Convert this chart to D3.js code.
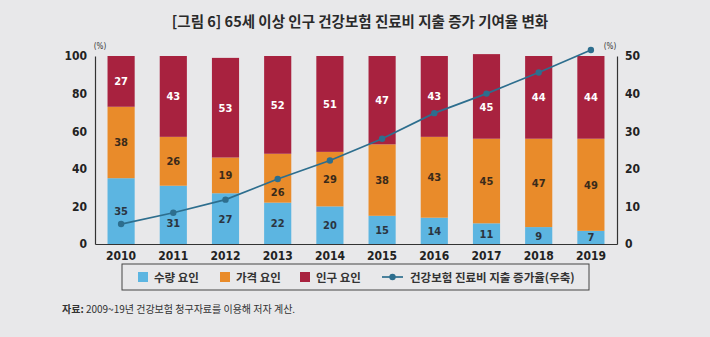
<!DOCTYPE html>
<html>
<head>
<meta charset="utf-8">
<script src="https://cdn.jsdelivr.net/npm/d3@7"></script>
<style>
  html, body { margin: 0; padding: 0; background: #e8e8ea; }
  svg { display: block; }
</style>
</head>
<body>
<svg id="chart" width="710" height="337"></svg>
<script>
// Contribution of population aged 65+ to health-insurance spending growth
const years = ["2010","2011","2012","2013","2014","2015","2016","2017","2018","2019"];
const volume = [35, 31, 27, 22, 20, 15, 14, 11, 9, 7];      // 수량 요인
const price = [38, 26, 19, 26, 29, 38, 43, 45, 47, 49];      // 가격 요인
const population = [27, 43, 53, 52, 51, 47, 43, 45, 44, 44]; // 인구 요인
const growthRate = [5.3, 8.3, 11.8, 17.3, 22.2, 28.0, 34.8, 40.0, 45.6, 51.6]; // 증가율(우축)
const leftTicks = [0, 20, 40, 60, 80, 100];
const rightTicks = [0, 10, 20, 30, 40, 50];

const seriesNames = ["수량 요인", "가격 요인", "인구 요인"];
const colors = ["#5cb5e1", "#e98b2a", "#a8223f"];
const labelColors = ["#2b3440", "#3a2a1a", "#ffffff"];
const lineColor = "#2d6e8e";

// labels moved down a little so the growth line does not cross them
const labelNudge = { "2011-v0": 8, "2013-v1": 14, "2017-v2": 11 };

const svg = d3.select("#chart");
const numFont = "'DejaVu Sans Condensed', 'DejaVu Sans', sans-serif";
const krFont = "'Noto Sans CJK KR', 'Noto Sans', sans-serif";

const x = d3.scaleBand().domain(years).range([95, 617]).paddingInner(0.48).paddingOuter(0.24);
const yL = d3.scaleLinear().domain([0, 100]).range([244, 56]);
const yR = d3.scaleLinear().domain([0, 50]).range([244, 56]);

// Title
svg.append("text")
  .attr("x", 360).attr("y", 27)
  .attr("text-anchor", "middle")
  .attr("font-family", krFont).attr("font-weight", 700)
  .attr("font-size", 14.5).attr("fill", "#2a2a2a")
  .text("[그림 6] 65세 이상 인구 건강보험 진료비 지출 증가 기여율 변화");

// Stacked bars
const rows = years.map((yr, i) => ({ year: yr, v0: volume[i], v1: price[i], v2: population[i] }));
const keys = ["v0", "v1", "v2"];
const stack = d3.stack().keys(keys);
const layers = stack(rows);

layers.forEach((layer, k) => {
  const g = svg.append("g");
  g.selectAll("rect").data(layer).enter().append("rect")
    .attr("x", d => x(d.data.year))
    .attr("width", x.bandwidth())
    .attr("y", d => yL(d[1]))
    .attr("height", d => yL(d[0]) - yL(d[1]))
    .attr("fill", colors[k]);
});

// Growth-rate line on right axis
const line = d3.line()
  .x((d, i) => x(years[i]) + x.bandwidth() / 2)
  .y(d => yR(d));
svg.append("path").datum(growthRate)
  .attr("d", line).attr("fill", "none")
  .attr("stroke", lineColor).attr("stroke-width", 1.7);
svg.append("g").selectAll("circle").data(growthRate).enter().append("circle")
  .attr("cx", (d, i) => x(years[i]) + x.bandwidth() / 2)
  .attr("cy", d => yR(d))
  .attr("r", 3.2).attr("fill", lineColor);

// Bar value labels
layers.forEach((layer, k) => {
  svg.append("g").selectAll("text").data(layer).enter().append("text")
    .attr("x", d => x(d.data.year) + x.bandwidth() / 2)
    .attr("y", d => {
      const top = yL(d[1]), bot = yL(d[0]);
      const nudge = labelNudge[d.data.year + "-" + keys[k]] || 0;
      return (top + bot) / 2 + 4 + nudge;
    })
    .attr("text-anchor", "middle")
    .attr("font-family", numFont).attr("font-weight", 700)
    .attr("font-size", 11)
    .attr("fill", labelColors[k])
    .text(d => d[1] - d[0]);
});

// Left axis
const axL = d3.axisLeft(yL).tickValues(leftTicks).tickSize(0).tickPadding(8);
const gL = svg.append("g").attr("transform", "translate(95,0)").call(axL);
gL.select(".domain").attr("stroke", "#333").attr("stroke-width", 1.2);
gL.selectAll("text").attr("font-family", numFont).attr("font-weight", 700)
  .attr("font-size", 12).attr("fill", "#222");

// Right axis
const axR = d3.axisRight(yR).tickValues(rightTicks).tickSize(0).tickPadding(8);
const gR = svg.append("g").attr("transform", "translate(617,0)").call(axR);
gR.select(".domain").attr("stroke", "#333").attr("stroke-width", 1.2);
gR.selectAll("text").attr("font-family", numFont).attr("font-weight", 700)
  .attr("font-size", 12).attr("fill", "#222");

// Baseline and year labels
const axB = d3.axisBottom(x).tickSize(0).tickPadding(7);
const gB = svg.append("g").attr("transform", "translate(0,244)").call(axB);
gB.select(".domain").attr("stroke", "#333").attr("stroke-width", 1.2);
gB.selectAll("text").attr("font-family", numFont).attr("font-weight", 700)
  .attr("font-size", 12).attr("fill", "#222");

// Unit labels
svg.append("text").attr("x", 100).attr("y", 49)
  .attr("text-anchor", "middle")
  .attr("font-family", numFont).attr("font-size", 8).attr("fill", "#333").text("(%)");
svg.append("text").attr("x", 610).attr("y", 49)
  .attr("text-anchor", "middle")
  .attr("font-family", numFont).attr("font-size", 8).attr("fill", "#333").text("(%)");

// Legend
const lg = svg.append("g");
lg.append("rect").attr("x", 122).attr("y", 264).attr("width", 467).attr("height", 26)
  .attr("fill", "none").attr("stroke", "#444").attr("stroke-width", 1);
const legendX = [138, 220, 300];
seriesNames.forEach((name, k) => {
  lg.append("rect").attr("x", legendX[k]).attr("y", 272).attr("width", 10).attr("height", 10)
    .attr("fill", colors[k]);
  lg.append("text").attr("x", legendX[k] + 16).attr("y", 281.5)
    .attr("font-family", krFont).attr("font-weight", 700).attr("font-size", 11.5)
    .attr("fill", "#333").text(name);
});
lg.append("line").attr("x1", 382).attr("x2", 403).attr("y1", 277).attr("y2", 277)
  .attr("stroke", lineColor).attr("stroke-width", 1.7);
lg.append("circle").attr("cx", 392.5).attr("cy", 277).attr("r", 3.2).attr("fill", lineColor);
lg.append("text").attr("x", 410).attr("y", 281.5)
  .attr("font-family", krFont).attr("font-weight", 700).attr("font-size", 11.5)
  .attr("fill", "#333").text("건강보험 진료비 지출 증가율(우축)");

// Source note
const src = svg.append("text").attr("x", 62).attr("y", 313)
  .attr("font-family", krFont).attr("font-size", 10).attr("fill", "#333");
src.append("tspan").attr("font-weight", 700).text("자료:");
src.append("tspan").text(" 2009~19년 건강보험 청구자료를 이용해 저자 계산.");
</script>
</body>
</html>
